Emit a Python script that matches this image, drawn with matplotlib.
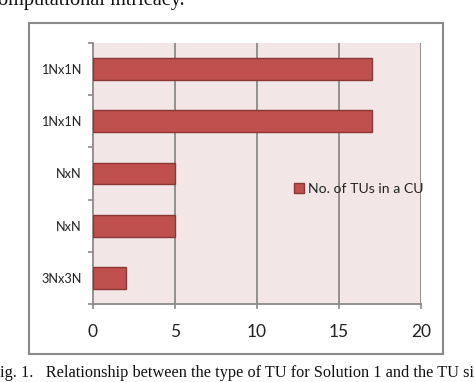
import matplotlib
matplotlib.use("Agg")
import matplotlib.pyplot as plt
from matplotlib.patches import Rectangle

categories = ["1Nx1N", "1Nx1N", "NxN", "NxN", "3Nx3N"]
values = [17, 17, 5, 5, 2]
series_name = "No. of TUs in a CU"
xticks = [0, 5, 10, 15, 20]
caption = "Fig. 1.   Relationship between the type of TU for Solution 1 and the TU size"
top_text = "computational intricacy."

W, H = 474, 382
fig = plt.figure(figsize=(W / 100, H / 100), dpi=100)
fig.patch.set_facecolor("white")

# outer chart border
fig.add_artist(Rectangle((29 / W, 1 - 354 / H), 414 / W, 331 / H,
                         transform=fig.transFigure, fill=False,
                         edgecolor="#8a8a8a", lw=1.5))

ax = fig.add_axes([93 / W, 1 - 304 / H, 328 / W, 261 / H])
ax.set_facecolor("#F2E6E7")

ypos = list(range(len(categories)))
ax.barh(ypos, values, height=0.42, color="#C0504D", edgecolor="#8B3735",
        lw=1.0, label=series_name, zorder=3)
ax.set_ylim(len(categories) - 0.5, -0.5)
ax.set_xlim(0, 20)

ax.set_xticks(xticks)
ax.set_xticklabels([str(t) for t in xticks], fontsize=12.5, family="Lato", color="#222222")
ax.tick_params(axis="x", length=3.6, width=1.2, color="#8a8a8a", pad=11)

ax.set_yticks(ypos)
ax.set_yticklabels(categories, fontsize=9.2, family="Lato", color="#222222")
ax.tick_params(axis="y", which="major", length=0, pad=8)
ax.set_yticks([y - 0.5 for y in range(len(categories) + 1)], minor=True)
ax.tick_params(axis="y", which="minor", length=3.6, width=1.2, color="#8a8a8a")

for x in xticks[1:]:
    ax.axvline(x, color="#8a8a8a", lw=1.3, zorder=2)

for s in ["top", "right"]:
    ax.spines[s].set_visible(False)
for s in ["left", "bottom"]:
    ax.spines[s].set_color("#8a8a8a")
    ax.spines[s].set_linewidth(1.3)

leg = fig.legend(loc="center left", bbox_to_anchor=(294 / W, 1 - 189 / H),
                 frameon=False, handlelength=0.7, handleheight=0.7,
                 handletextpad=0.3, borderpad=0, borderaxespad=0,
                 prop={"family": "Lato", "size": 10.1})
for t in leg.get_texts():
    t.set_color("#222222")

fig.text(-11 / W, 1 - 5 / H, top_text, family="Liberation Serif", fontsize=14.6,
         va="baseline", ha="left", color="#111111")
fig.text(-9 / W, 1 - 377 / H, caption, family="Liberation Serif", fontsize=11.7,
         va="baseline", ha="left", color="#111111")

fig.savefig("out.png", dpi=100)
